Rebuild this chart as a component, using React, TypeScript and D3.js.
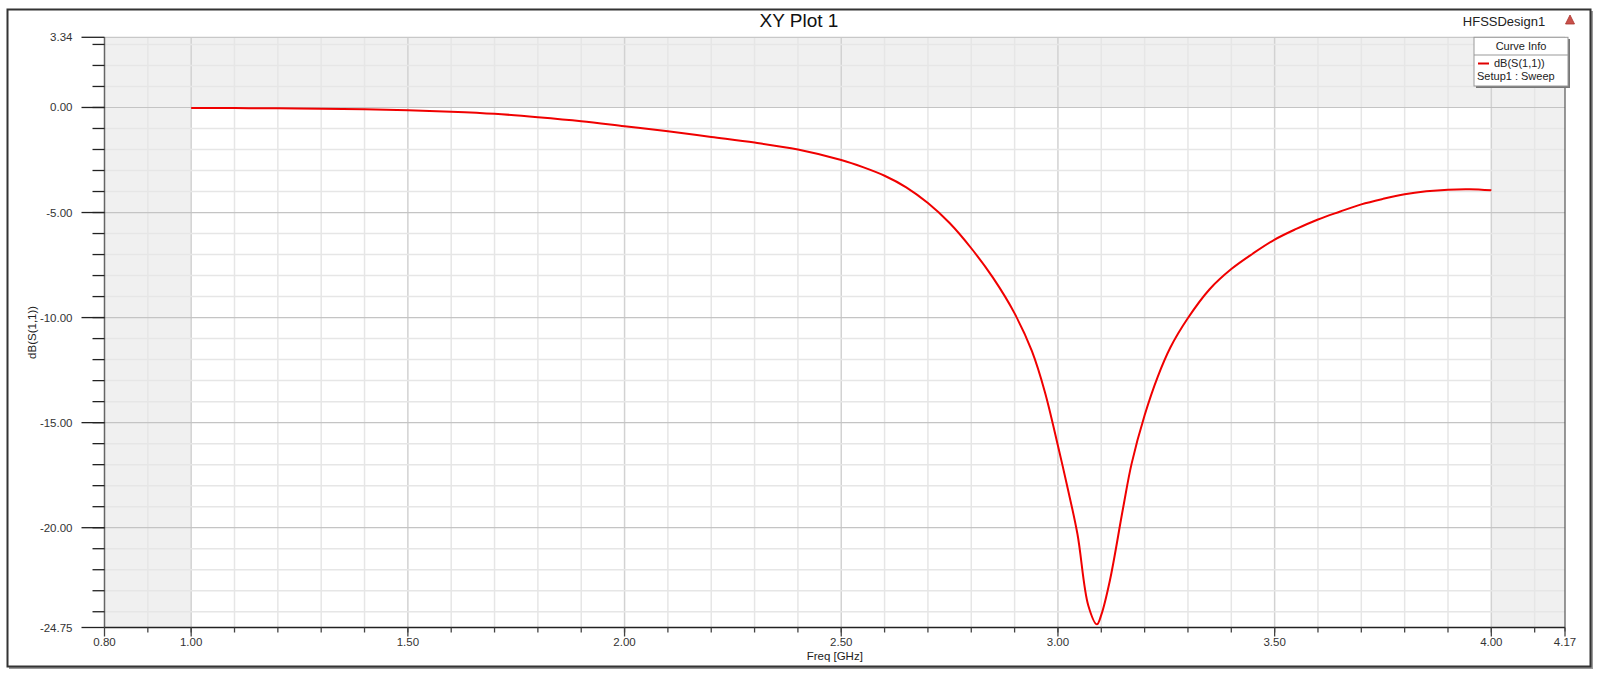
import React from "react";
import * as d3 from "d3";

// sweep readings, dB(S(1,1)) vs frequency in GHz
const freqs: number[] = [
  1.0, 1.1, 1.2, 1.3, 1.4, 1.5, 1.6, 1.7, 1.8, 1.9, 2.0, 2.1, 2.2, 2.3, 2.4,
  2.5, 2.55, 2.6, 2.65, 2.7, 2.75, 2.8, 2.85, 2.9, 2.94, 2.97, 3.0, 3.02,
  3.045, 3.07, 3.09, 3.1, 3.12, 3.15, 3.17, 3.2, 3.23, 3.26, 3.3, 3.35, 3.4,
  3.45, 3.5, 3.55, 3.6, 3.65, 3.7, 3.75, 3.8, 3.85, 3.9, 3.95, 4.0,
];
const s11: number[] = [
  -0.02, -0.03, -0.04, -0.06, -0.09, -0.13, -0.2, -0.3, -0.46, -0.65, -0.89,
  -1.13, -1.4, -1.67, -2.0, -2.5, -2.84, -3.25, -3.8, -4.55, -5.5, -6.7,
  -8.1, -9.8, -11.6, -13.55, -16.1, -17.9, -20.3, -23.7, -24.6, -24.15,
  -22.5, -19.1, -16.95, -14.65, -12.83, -11.4, -10.02, -8.65, -7.69, -6.95,
  -6.29, -5.78, -5.33, -4.96, -4.61, -4.35, -4.13, -3.99, -3.91, -3.89, -3.94,
];

const xTickLabels: number[] = [0.8, 1.0, 1.5, 2.0, 2.5, 3.0, 3.5, 4.0, 4.17];
const yTickLabels: number[] = [3.34, 0, -5, -10, -15, -20, -24.75];
const xMinor: number[] = d3.range(9, 42).map((d) => d / 10);
const yMinor: number[] = d3.range(3, -25, -1);
const xMajorGrid: number[] = [1.0, 1.5, 2.0, 2.5, 3.0, 3.5, 4.0];
const yMajorGrid: number[] = [0, -5, -10, -15, -20];

const font = "'Liberation Sans', Arial, sans-serif";

export default function App() {
  const W = 1600;
  const H = 673;
  const left = 104.5;
  const right = 1565;
  const top = 37.3;
  const bottom = 627.5;

  const x = d3.scaleLinear().domain([0.8, 4.17]).range([left, right]);
  const y = d3.scaleLinear().domain([3.34, -24.75]).range([top, bottom]);

  const line = d3
    .line<number>()
    .x((_, i) => x(freqs[i]))
    .y((d) => y(d))
    .curve(d3.curveCatmullRom.alpha(0.5));

  const isMajorX = (v: number) => xMajorGrid.some((m) => Math.abs(m - v) < 1e-6);
  const isMajorY = (v: number) => yMajorGrid.includes(v);

  return (
    <svg
      width={W}
      height={H}
      style={{ position: "absolute", left: 0, top: 0, background: "#fff" }}
      fontFamily={font}
    >
      {/* outer frame */}
      <rect x={9} y={11} width={1584} height={658} fill="#9a9a9a" />
      <rect x={7.5} y={9.5} width={1583} height={657} fill="#fff" stroke="#333" strokeWidth={2} />

      <text x={799} y={27} textAnchor="middle" fontSize={19} fill="#111">
        XY Plot 1
      </text>
      <text x={1504} y={26} textAnchor="middle" fontSize={13} fill="#222">
        HFSSDesign1
      </text>
      <path d="M1570,15 L1574.5,24 L1565.5,24 Z" fill="#c9504a" stroke="#a8322c" strokeWidth={0.8} />

      {/* plot background: gray outside the swept band */}
      <rect x={left} y={top} width={right - left} height={bottom - top} fill="#f0f0f0" />
      <rect x={x(1.0)} y={y(0)} width={x(4.0) - x(1.0)} height={bottom - y(0)} fill="#fff" />

      {/* grid */}
      {xMinor.map((v) => (
        <line
          key={"gx" + v}
          x1={x(v)}
          x2={x(v)}
          y1={top}
          y2={bottom}
          stroke={isMajorX(v) ? "#d2d2d2" : "#e6e6e6"}
          strokeWidth={1.5}
        />
      ))}
      {yMinor.map((v) => (
        <line
          key={"gy" + v}
          x1={left}
          x2={right}
          y1={y(v)}
          y2={y(v)}
          stroke={isMajorY(v) ? "#c4c4c4" : "#e6e6e6"}
          strokeWidth={isMajorY(v) ? 1.2 : 1.5}
        />
      ))}
      <line x1={left} x2={right} y1={top} y2={top} stroke="#c8c8c8" strokeWidth={1.2} />
      <line x1={right} x2={right} y1={top} y2={bottom + 4} stroke="#555" strokeWidth={1.2} />

      {/* curve */}
      <path d={line(s11) || ""} fill="none" stroke="#f00000" strokeWidth={2} />

      {/* y axis */}
      <line x1={left} x2={left} y1={top} y2={bottom} stroke="#666" strokeWidth={1.5} />
      {yMinor.map((v) => (
        <line key={"ty" + v} x1={left - 12} x2={left} y1={y(v)} y2={y(v)} stroke="#222" strokeWidth={1.3} />
      ))}
      {yTickLabels.map((v) => (
        <g key={"ly" + v}>
          <line x1={left - 23} x2={left} y1={y(v)} y2={y(v)} stroke="#222" strokeWidth={1.3} />
          <text x={72.5} y={y(v) + 4} textAnchor="end" fontSize={11.5} fill="#333">
            {v.toFixed(2)}
          </text>
        </g>
      ))}
      <text
        transform={`translate(36,${(top + bottom) / 2}) rotate(-90)`}
        textAnchor="middle"
        fontSize={11.5}
        fill="#222"
      >
        dB(S(1,1))
      </text>

      {/* x axis */}
      <line x1={left} x2={right} y1={bottom} y2={bottom} stroke="#222" strokeWidth={1.5} />
      {xMinor.map((v) => (
        <line key={"tx" + v} x1={x(v)} x2={x(v)} y1={bottom} y2={bottom + 5} stroke="#444" strokeWidth={1.3} />
      ))}
      {xTickLabels.map((v) => (
        <g key={"lx" + v}>
          <line x1={x(v)} x2={x(v)} y1={bottom} y2={bottom + 9} stroke="#444" strokeWidth={1.3} />
          <text x={x(v)} y={bottom + 18} textAnchor="middle" fontSize={11.5} fill="#333">
            {v.toFixed(2)}
          </text>
        </g>
      ))}
      <text x={(left + right) / 2} y={660} textAnchor="middle" fontSize={11.5} fill="#222">
        Freq [GHz]
      </text>

      {/* legend */}
      <rect x={1476} y={39} width={94} height={49} fill="#777" />
      <rect x={1474} y={37.3} width={94} height={48.7} fill="#fff" stroke="#999" strokeWidth={1} />
      <line x1={1474} x2={1568} y1={55} y2={55} stroke="#999" strokeWidth={1} />
      <text x={1521} y={50} textAnchor="middle" fontSize={11} fill="#222">
        Curve Info
      </text>
      <line x1={1478} x2={1489} y1={63.5} y2={63.5} stroke="#e00000" strokeWidth={2} />
      <text x={1494} y={67} fontSize={11} fill="#222">
        dB(S(1,1))
      </text>
      <text x={1477} y={80} fontSize={11} fill="#222">
        Setup1 : Sweep
      </text>
    </svg>
  );
}
